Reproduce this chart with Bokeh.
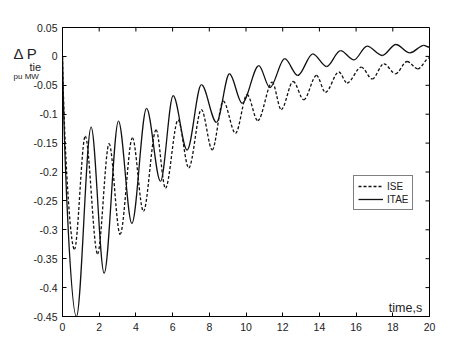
import numpy as np
from bokeh.plotting import figure
from bokeh.models import (Range1d, FixedTicker, Label, Legend, LegendItem,
                          ColumnDataSource)
from bokeh.embed import file_html
from bokeh.resources import INLINE

# ---- data (extrema of each response) ----
itae_t = [0, 0.76, 1.56, 2.27, 3.05, 3.78, 4.58, 5.34, 6.03, 6.79, 7.57, 8.39,
          9.10, 9.79, 10.70, 11.30, 12.11, 12.82, 13.64, 14.39, 15.15, 15.88,
          16.60, 17.42, 18.17, 18.93, 19.69, 20.0]
itae_y = [0, -0.450, -0.1225, -0.375, -0.112, -0.289, -0.090, -0.216, -0.068,
          -0.162, -0.049, -0.114, -0.030, -0.081, -0.016, -0.054, -0.004,
          -0.033, 0.0045, -0.0175, 0.010, -0.006, 0.0177, 0.0016, 0.0206,
          0.0062, 0.019, 0.016]

ise_t = [0, 0.65, 1.24, 1.91, 2.54, 3.14, 3.81, 4.41, 5.10, 5.61, 6.30, 6.88,
         7.57, 8.16, 8.76, 9.43, 10.06, 10.64, 11.43, 11.92, 12.57, 13.15,
         13.84, 14.33, 15.06, 15.51, 16.28, 16.88, 17.51, 18.15, 18.78, 19.36,
         20.0]
ise_y = [0, -0.334, -0.138, -0.3415, -0.151, -0.308, -0.141, -0.268, -0.127,
         -0.228, -0.110, -0.193, -0.092, -0.1616, -0.0775, -0.133, -0.066,
         -0.111, -0.0446, -0.092, -0.0434, -0.075, -0.033, -0.062, -0.027,
         -0.046, -0.0187, -0.039, -0.0128, -0.030, -0.0088, -0.0215, -0.0025]

x_tick_labels = ["0", "2", "4", "6", "8", "10", "12", "14", "16", "18", "20"]
y_tick_labels = ["0.05", "0", "-0.05", "-0.1", "-0.15", "-0.2", "-0.25",
                 "-0.3", "-0.35", "-0.4", "-0.45"]

FONT = "Liberation Sans"
INK = "#111111"
TXT = "#222222"

X0, X1 = 0, 20
Y0, Y1 = -0.45, 0.05


def bezier_source(t, y):
    t = np.asarray(t, float)
    y = np.asarray(y, float)
    x0, x1, y0, y1 = t[:-1], t[1:], y[:-1], y[1:]
    dt = x1 - x0
    cx0 = x0 + dt / 3.0
    cy0 = y0.copy()
    # first segment leaves the origin steeply
    cx0[0] = x0[0] + dt[0] * 0.15
    cy0[0] = y0[0] + (y1[0] - y0[0]) * 0.5
    cx1 = x1 - dt / 3.0
    cy1 = y1.copy()
    return ColumnDataSource(dict(x0=x0, y0=y0, x1=x1, y1=y1,
                                 cx0=cx0, cy0=cy0, cx1=cx1, cy1=cy1))


p = figure(width=474, height=355, output_backend="svg", toolbar_location=None,
           x_range=Range1d(X0, X1), y_range=Range1d(Y0, Y1),
           min_border_left=62, min_border_right=45, min_border_top=27,
           min_border_bottom=39)
p.xgrid.visible = False
p.ygrid.visible = False
p.outline_line_color = "black"
p.outline_line_alpha = 1.0
p.outline_line_width = 1
p.background_fill_color = "white"
p.border_fill_color = "white"

x_ticks = [float(s) for s in x_tick_labels]
y_ticks = [float(s) for s in y_tick_labels]

for ax in (p.xaxis[0], p.yaxis[0]):
    ax.major_tick_in = 4
    ax.major_tick_out = 0
    ax.minor_tick_line_color = None
    ax.axis_line_color = "black"
    ax.major_tick_line_color = "black"
    ax.major_label_text_font = FONT
    ax.major_label_text_font_size = "10.5px"
    ax.major_label_text_color = TXT

p.xaxis.ticker = FixedTicker(ticks=x_ticks)
p.xaxis.major_label_overrides = {v: s for v, s in zip(x_ticks, x_tick_labels)}
p.xaxis.major_label_standoff = 6
p.yaxis.ticker = FixedTicker(ticks=y_ticks)
p.yaxis.major_label_overrides = {v: s for v, s in zip(y_ticks, y_tick_labels)}
p.yaxis.major_label_standoff = 5

# inward ticks on the top and right edges of the box
p.ray(x=x_ticks, y=[Y1] * len(x_ticks), length=4, length_units="screen",
      angle=-np.pi / 2, line_color="black", line_width=1)
p.ray(x=[X1] * len(y_ticks), y=y_ticks, length=4, length_units="screen",
      angle=np.pi, line_color="black", line_width=1)

r_ise = p.bezier(x0="x0", y0="y0", x1="x1", y1="y1", cx0="cx0", cy0="cy0",
                 cx1="cx1", cy1="cy1", source=bezier_source(ise_t, ise_y),
                 line_color=INK, line_width=1.3, line_dash="3 2")
r_itae = p.bezier(x0="x0", y0="y0", x1="x1", y1="y1", cx0="cx0", cy0="cy0",
                  cx1="cx1", cy1="cy1", source=bezier_source(itae_t, itae_y),
                  line_color=INK, line_width=1.3)

legend = Legend(items=[LegendItem(label="ISE", renderers=[r_ise]),
                       LegendItem(label="ITAE", renderers=[r_itae])],
                location=(291, 106), border_line_color="black",
                border_line_width=1, background_fill_alpha=1.0,
                label_text_font=FONT, label_text_font_size="10px",
                label_text_color=TXT,
                glyph_width=25, glyph_height=12, padding=4, spacing=1,
                margin=0, label_standoff=4, label_height=12)
p.add_layout(legend)

# y-axis title pieces live in the side panels so they are not clipped
p.add_layout(Label(x=-2.67, y=0.005, text="Δ P", text_font=FONT,
                   text_font_size="15px", text_color=TXT,
                   text_baseline="alphabetic"), "above")
p.add_layout(Label(x=-1.8, y=-0.0175, text="tie", text_font=FONT,
                   text_font_size="11px", text_color=TXT,
                   text_baseline="alphabetic"), "below")
p.add_layout(Label(x=-2.67, y=-0.035, text="pu MW", text_font=FONT,
                   text_font_size="8px", text_color=TXT,
                   text_baseline="alphabetic"), "right")
p.add_layout(Label(x=19.6, y=-0.436, text="time,s", text_font=FONT,
                   text_font_size="12.5px", text_color=TXT,
                   text_align="right", text_baseline="alphabetic"))

open("out.html", "w").write(file_html(p, INLINE))
